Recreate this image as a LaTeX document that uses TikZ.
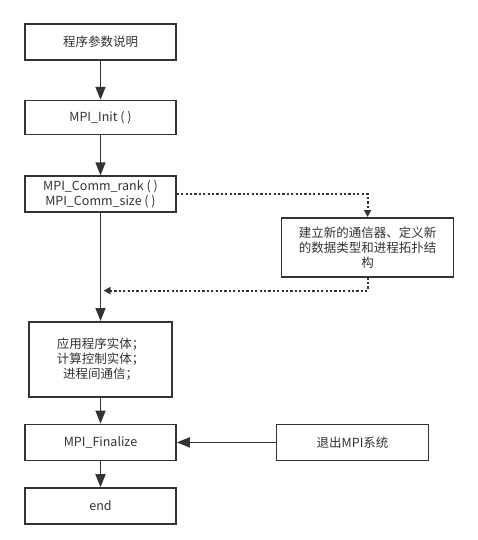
\documentclass[tikz,border=0pt]{standalone}
\usepackage{fontspec}
\setmainfont{Noto Sans CJK SC}
\usetikzlibrary{positioning,arrows.meta}
\definecolor{ink}{HTML}{333333}

\begin{document}
\begin{tikzpicture}[x=1pt, y=1pt, node distance={40pt}, line width=1.6pt, draw=ink, text=ink,
    font=\fontsize{12.5}{15}\selectfont,
    main/.style = {draw=ink, rectangle, minimum width=151pt, minimum height=36pt, align=center, inner sep=1pt},
    flow/.style = {draw=ink, -{Triangle[length=13pt,width=10pt]}},
    dots/.style = {draw=ink, line width=1.8pt, dash pattern=on 2.2pt off 2.2pt, -{Triangle[length=7pt,width=7pt]}}
    ]
\useasboundingbox (0,0) rectangle (477,-540);
\node[main] (0) at (100.5,-42) {程序参数说明};
\node[main, minimum height=34pt] (1) [below=39pt of 0] {MPI\_Init ( )};
\node[main] (2) [below=40pt of 1] {MPI\_Comm\_rank ( )\\MPI\_Comm\_size ( )};
\node[main, minimum width=172pt, minimum height=59pt] (3) [below right=4pt and 104pt of 2.south east] {建立新的通信器、定义新\\的数据类型和进程拓扑结\\构};
\node[main, minimum width=143pt, minimum height=75pt] (4) [below=108pt of 2] {应用程序实体；\\计算控制实体；\\进程间通信；};
\node[main] (5) [below=26pt of 4] {MPI\_Finalize};
\node[main] (6) [below=26pt of 5] {end};
\node[main, minimum width=152pt] (7) [right=99pt of 5] {退出MPI系统};
\coordinate (8) at ([xshift=3pt, yshift=-13pt] 3.south -| 2.south);

\draw[flow] (0) -- (1);
\draw[flow] (1) -- (2);
\draw[flow] (2) -- (4);
\draw[flow] (4) -- (5);
\draw[flow] (5) -- (6);
\draw[flow] (7) -- (5);
\draw[dots] (2.east) -| (3.north);
\draw[dots] (3.south) |- (8);

\end{tikzpicture}
\end{document}
